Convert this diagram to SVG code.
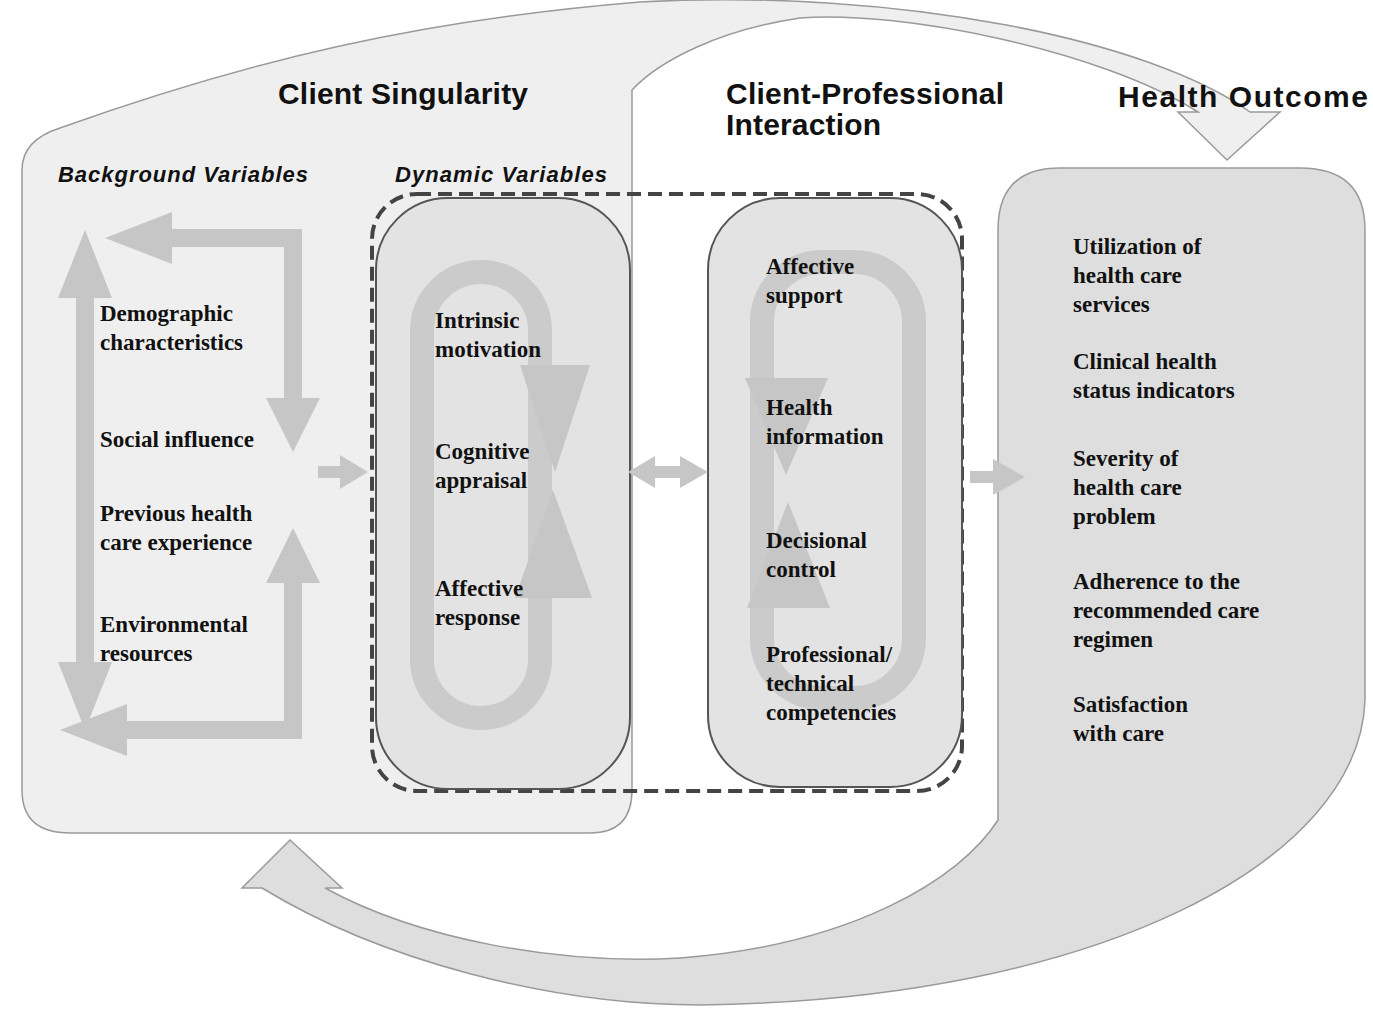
<svg xmlns="http://www.w3.org/2000/svg" width="1373" height="1013" viewBox="0 0 1373 1013">
<style>
.panel{fill:#efefef;stroke:#9a9a9a;stroke-width:1.5}
.box{fill:#e3e3e3;stroke:#555;stroke-width:2}
.arr{fill:#c6c6c6;stroke:none}
.loop{fill:none;stroke:#cbcbcb;stroke-width:24}
.h{font-family:"Liberation Sans",Arial,sans-serif;font-size:30px;font-weight:bold;fill:#111}
.sub{font-family:"Liberation Sans",Arial,sans-serif;font-size:22px;font-weight:bold;font-style:italic;fill:#111}
.t{font-family:"Liberation Serif","Times New Roman",serif;font-size:23px;font-weight:bold;fill:#111}
</style>
<rect width="1373" height="1013" fill="#fff"/>
<g id="client-singularity">
<path class="panel" d="M22,170 Q22,140 60,128 C250,60 420,20 640,2 C900,-12 1150,40 1250,112 L1280,112 L1227,160 L1178,112 L1198,112 C1100,50 900,10 800,18 C720,30 660,60 632,90 L632,790 Q632,833 590,833 L70,833 Q22,833 22,790 Z"/>
<text class="h" x="278" y="104" textLength="250">Client Singularity</text>
<text class="sub" x="58" y="182" textLength="250">Background Variables</text>
<text class="sub" x="395" y="182" textLength="212">Dynamic Variables</text>
</g>
<g id="health-outcome">
<path class="panel" style="fill:#dedede" d="M998,230 Q998,168 1060,168 L1300,168 Q1365,168 1365,230 L1365,700 C1360,860 1100,1000 700,1005 C550,1005 380,960 262,888 L242,888 L290,840 L342,888 L325,888 C420,940 560,965 680,958 C850,945 960,880 998,820 Z"/>
<text class="h" x="1118" y="107" textLength="250">Health Outcome</text>
<text class="t" x="1073" y="254">Utilization of</text>
<text class="t" x="1073" y="283">health care</text>
<text class="t" x="1073" y="312">services</text>
<text class="t" x="1073" y="369">Clinical health</text>
<text class="t" x="1073" y="398">status indicators</text>
<text class="t" x="1073" y="466">Severity of</text>
<text class="t" x="1073" y="495">health care</text>
<text class="t" x="1073" y="524">problem</text>
<text class="t" x="1073" y="589">Adherence to the</text>
<text class="t" x="1073" y="618">recommended care</text>
<text class="t" x="1073" y="647">regimen</text>
<text class="t" x="1073" y="712">Satisfaction</text>
<text class="t" x="1073" y="741">with care</text>
</g>
<g id="background-variables">
<polygon class="arr" points="85,230 112,298 94,298 94,662 112,662 85,730 58,662 76,662 76,298 58,298"/>
<polygon class="arr" points="105,238 172,212 172,229 302,229 302,398 320,398 293,452 266,398 284,398 284,247 172,247 172,264"/>
<polygon class="arr" points="60,730 127,704 127,721 284,721 284,583 266,583 293,528 320,583 302,583 302,739 127,739 127,756"/>
<text class="t" x="100" y="321">Demographic</text>
<text class="t" x="100" y="350">characteristics</text>
<text class="t" x="100" y="447">Social influence</text>
<text class="t" x="100" y="521">Previous health</text>
<text class="t" x="100" y="550">care experience</text>
<text class="t" x="100" y="632">Environmental</text>
<text class="t" x="100" y="661">resources</text>
</g>
<g id="interaction-frame">
<rect x="372" y="194" width="590" height="597" rx="45" fill="none" stroke="#444" stroke-width="4" stroke-dasharray="14,7"/>
<text class="h" x="726" y="104" textLength="278">Client-Professional</text>
<text class="h" x="726" y="135" textLength="155">Interaction</text>
</g>
<g id="dynamic-variables">
<rect class="box" x="376" y="198" width="254" height="591" rx="72"/>
<rect class="loop" x="422" y="272" width="118" height="446" rx="59"/>
<polygon class="arr" points="520,365 590,365 555,472"/>
<polygon class="arr" points="515,598 592,598 553,490"/>
<text class="t" x="435" y="328">Intrinsic</text>
<text class="t" x="435" y="357">motivation</text>
<text class="t" x="435" y="459">Cognitive</text>
<text class="t" x="435" y="488">appraisal</text>
<text class="t" x="435" y="596">Affective</text>
<text class="t" x="435" y="625">response</text>
</g>
<g id="professional-interaction">
<rect class="box" x="708" y="198" width="254" height="589" rx="72"/>
<rect class="loop" x="762" y="262" width="152" height="436" rx="60"/>
<polygon class="arr" points="745,378 828,378 786,475"/>
<polygon class="arr" points="747,608 830,608 788,502"/>
<text class="t" x="766" y="274">Affective</text>
<text class="t" x="766" y="303">support</text>
<text class="t" x="766" y="415">Health</text>
<text class="t" x="766" y="444">information</text>
<text class="t" x="766" y="548">Decisional</text>
<text class="t" x="766" y="577">control</text>
<text class="t" x="766" y="662">Professional/</text>
<text class="t" x="766" y="691">technical</text>
<text class="t" x="766" y="720">competencies</text>
</g>
<g id="connectors">
<polygon class="arr" points="318,466 340,466 340,455 368,472 340,489 340,478 318,478"/>
<polygon class="arr" points="628,472 655,456 655,466 680,466 680,456 708,472 680,488 680,478 655,478 655,488"/>
<polygon class="arr" points="970,471 993,471 993,459 1025,477 993,495 993,483 970,483"/>
</g>
</svg>
